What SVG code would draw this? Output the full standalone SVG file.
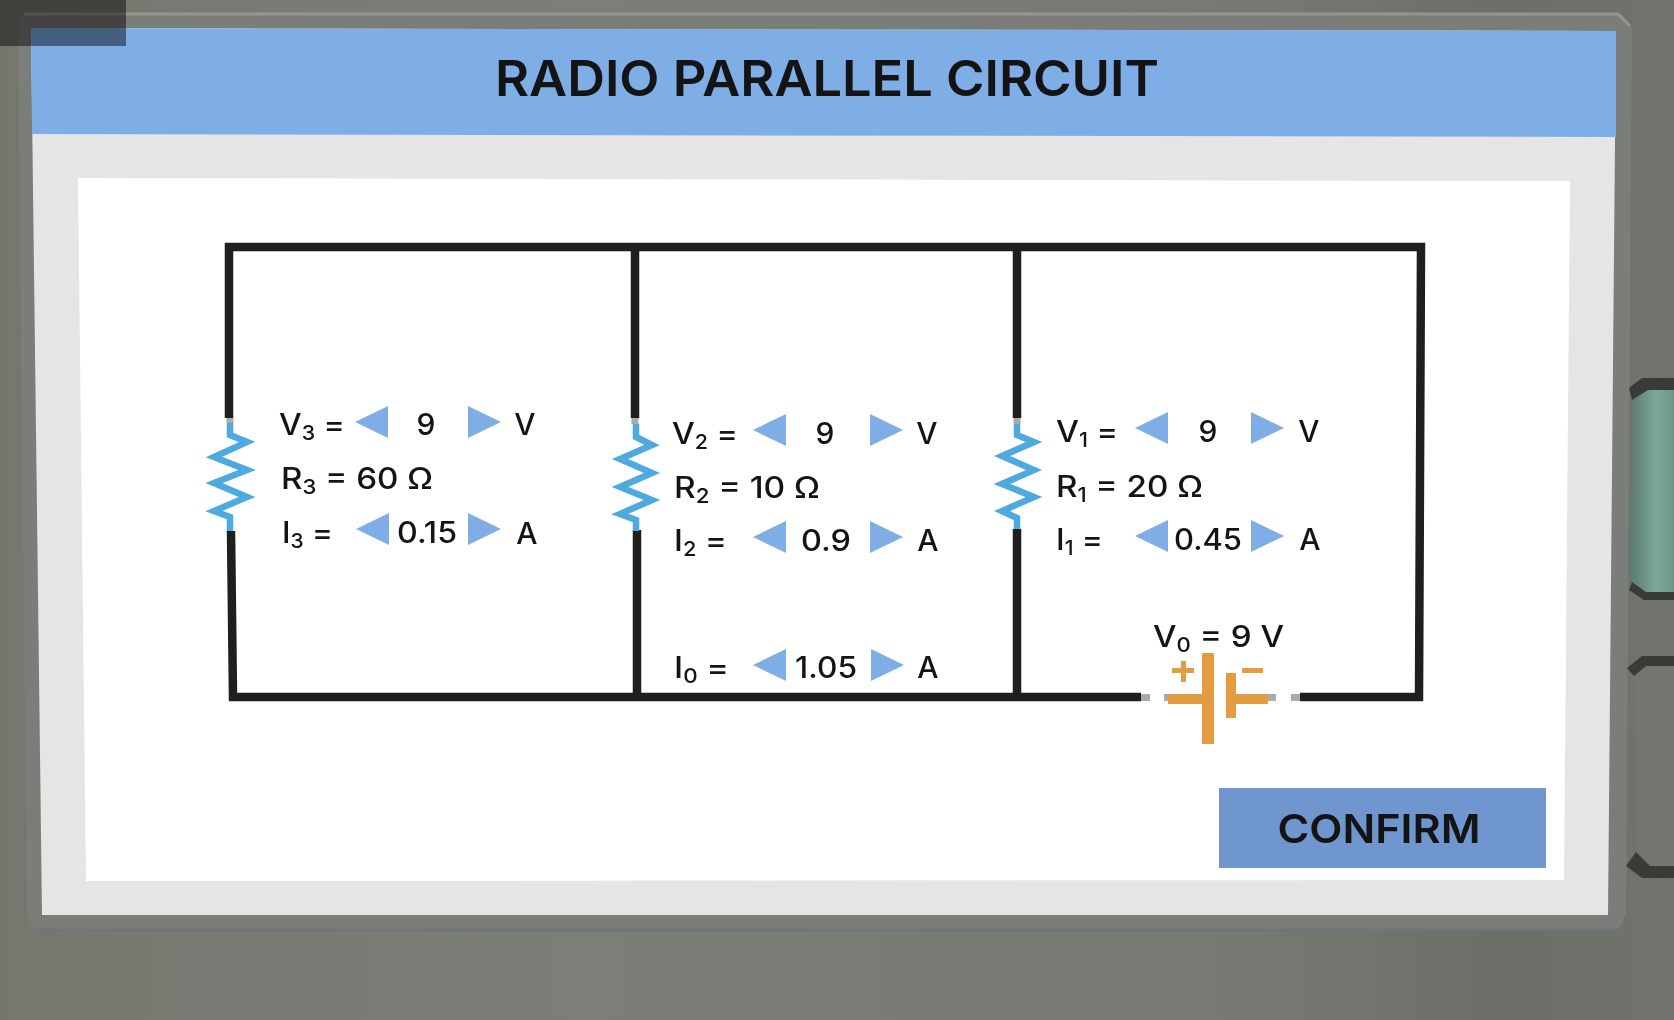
<svg xmlns="http://www.w3.org/2000/svg" width="1674" height="1020" viewBox="0 0 1674 1020">
<style>
text{font-family:Inter,"Open Sans","Liberation Sans",sans-serif;fill:#141414;font-size:30px;font-weight:500}
.m{text-anchor:middle}
.s{font-size:20px}
.w{fill:none;stroke:#1f1f1d;stroke-width:8.500;stroke-linejoin:miter}
.r{fill:none;stroke:#4ea9de;stroke-width:6.500;stroke-linejoin:miter}
.g{stroke:#aaa;stroke-width:7;fill:none}
.a{fill:#7fade6}
.b{fill:#e49c40}
.soft{filter:blur(0.6px)}
</style>
<defs>
<linearGradient id="bg" x1="0" x2="1" y1="0" y2="0"><stop offset="0" stop-color="#75776f"/><stop offset="0.35" stop-color="#7c7e78"/><stop offset="0.75" stop-color="#767872"/><stop offset="0.9" stop-color="#6c6e68"/><stop offset="1" stop-color="#71736d"/></linearGradient>
<linearGradient id="teal" x1="0" x2="1" y1="0" y2="0"><stop offset="0" stop-color="#5c7a72"/><stop offset="0.6" stop-color="#7ea699"/><stop offset="1" stop-color="#6c9488"/></linearGradient>
<path id="L" d="M0 0L33-16V16Z"/>
<path id="R" d="M0-16L33 0L0 16Z"/>
</defs>
<g class="soft">
<g id="background">
<rect width="1674" height="1020" fill="url(#bg)"/>
<path d="M24 14H1618L1632 28 1626 915 1618 930H34L27 915 18 22Z" fill="#7b7d78"/>
<path d="M24 14H1618L1630 26" stroke="#93958f" stroke-width="3" fill="none"/>
<path d="M34 930H1618" stroke="#6e7478" stroke-width="3" fill="none"/>
<path d="M1674 388H1646L1632 398 1630 580 1644 592H1674Z" fill="url(#teal)"/>
<path d="M1629 388L1642 378H1674V390H1648L1632 400ZM1629 590L1644 600H1674V592H1646L1632 582Z" fill="#3a3b36"/>
<path d="M1674 664H1644L1634 674 1636 850 1650 866H1674Z" fill="#73756f"/>
<path d="M1627 668L1642 656H1674V666H1646L1634 676ZM1626 866L1642 878H1674V866H1650L1636 852Z" fill="#3a3b36"/>
</g>
<g id="panel">
<path d="M31 28L1616 31 1608 915 42 915Z" fill="#e5e5e5"/>
<path d="M31 28L1616 31V137L32 134Z" fill="#7fade6"/>
<path d="M78 178L1570 181 1564 880 86 881Z" fill="#fff"/>
<text id="title" x="827" y="96" class="m" style="font-size:50px;font-weight:600" textLength="664" lengthAdjust="spacingAndGlyphs">RADIO PARALLEL CIRCUIT</text>
</g>
<g id="connectors">
<path class="w" d="M229 418V247H1421L1419 697H1300"/>
<path class="w" d="M1141 697H233L231 531"/>
<path class="w" d="M635 247V418M637 530V697"/>
<path class="w" d="M1017 247V418M1017 529V697"/>
<path class="g" d="M230 418V423M635 418V424M1017 418V424M1141 697.500H1150M1164 697.500H1168M1268 697.500H1276M1291 697.500H1300"/>
</g>
<g id="R3"><path class="r" d="M230 423V435L247 442 214 457 247 470 214 483 247 497 214 511 230 517V531"/>
<text x="279" y="435" textLength="66" lengthAdjust="spacingAndGlyphs">V<tspan class="s" dy="5">3</tspan><tspan dy="-5"> =</tspan></text>
<text x="281" y="489" textLength="152" lengthAdjust="spacingAndGlyphs">R<tspan class="s" dy="5">3</tspan><tspan dy="-5"> = 60 Ω</tspan></text>
<text x="282" y="543" textLength="51" lengthAdjust="spacingAndGlyphs">I<tspan class="s" dy="5">3</tspan><tspan dy="-5"> =</tspan></text>
<use href="#L" x="355" y="422" class="a"/><use href="#R" x="468" y="422" class="a"/>
<use href="#L" x="356" y="529" class="a"/><use href="#R" x="468" y="529" class="a"/>
<text x="426" y="435" class="m">9</text><text x="427" y="543" class="m" textLength="60" lengthAdjust="spacingAndGlyphs">0.15</text>
<text x="525" y="435" class="m">V</text><text x="527" y="544" class="m">A</text></g>
<g id="R2"><path class="r" d="M636 424V437L652 445 620 459 652 473 620 487 652 500 620 514 636 520V531"/>
<text x="672" y="444" textLength="66" lengthAdjust="spacingAndGlyphs">V<tspan class="s" dy="5">2</tspan><tspan dy="-5"> =</tspan></text>
<text x="674" y="498" textLength="146" lengthAdjust="spacingAndGlyphs">R<tspan class="s" dy="5">2</tspan><tspan dy="-5"> = 10 Ω</tspan></text>
<text x="674" y="551" textLength="53" lengthAdjust="spacingAndGlyphs">I<tspan class="s" dy="5">2</tspan><tspan dy="-5"> =</tspan></text>
<use href="#L" x="753" y="430" class="a"/><use href="#R" x="870" y="430" class="a"/>
<use href="#L" x="753" y="537" class="a"/><use href="#R" x="870" y="537" class="a"/>
<text x="825" y="444" class="m">9</text><text x="826" y="551" class="m" textLength="50" lengthAdjust="spacingAndGlyphs">0.9</text>
<text x="927" y="444" class="m">V</text><text x="928" y="551" class="m">A</text></g>
<g id="R1"><path class="r" d="M1017 424V435L1034 442 1002 456 1034 470 1002 484 1034 497 1002 511 1017 518V529"/>
<text x="1056" y="442" textLength="62" lengthAdjust="spacingAndGlyphs">V<tspan class="s" dy="5">1</tspan><tspan dy="-5"> =</tspan></text>
<text x="1056" y="497" textLength="147" lengthAdjust="spacingAndGlyphs">R<tspan class="s" dy="5">1</tspan><tspan dy="-5"> = 20 Ω</tspan></text>
<text x="1056" y="550" textLength="47" lengthAdjust="spacingAndGlyphs">I<tspan class="s" dy="5">1</tspan><tspan dy="-5"> =</tspan></text>
<use href="#L" x="1135" y="428" class="a"/><use href="#R" x="1251" y="428" class="a"/>
<use href="#L" x="1135" y="536" class="a"/><use href="#R" x="1251" y="536" class="a"/>
<text x="1208" y="442" class="m">9</text><text x="1208" y="550" class="m" textLength="68" lengthAdjust="spacingAndGlyphs">0.45</text>
<text x="1309" y="442" class="m">V</text><text x="1310" y="550" class="m">A</text></g>
<g id="I0">
<text x="674" y="678" textLength="55" lengthAdjust="spacingAndGlyphs">I<tspan class="s" dy="5">0</tspan><tspan dy="-5"> =</tspan></text>
<use href="#L" x="753" y="665" class="a"/><use href="#R" x="871" y="665" class="a"/>
<text x="826" y="678" class="m" textLength="62" lengthAdjust="spacingAndGlyphs">1.05</text><text x="928" y="678" class="m">A</text></g>
<g id="battery">
<path class="b" d="M1202 653H1214V744H1202ZM1226 673H1236V718H1226ZM1168 694H1202V704H1168ZM1236 694H1268V704H1236ZM1172 668H1181V661H1186V668H1194V673H1186V682H1181V673H1172ZM1242 668H1263V673H1242Z"/>
<text x="1153" y="647" textLength="131" lengthAdjust="spacingAndGlyphs">V<tspan class="s" dy="5">0</tspan><tspan dy="-5"> = 9 V</tspan></text></g>
<g id="confirm"><rect x="1219" y="788" width="327" height="80" fill="#7096cf"/>
<text x="1379" y="843" class="m" style="font-size:40px;font-weight:600" textLength="203" lengthAdjust="spacingAndGlyphs">CONFIRM</text></g>
<rect id="overlay" width="126" height="46" fill="#000" fill-opacity="0.45"/>
</g>
</svg>
